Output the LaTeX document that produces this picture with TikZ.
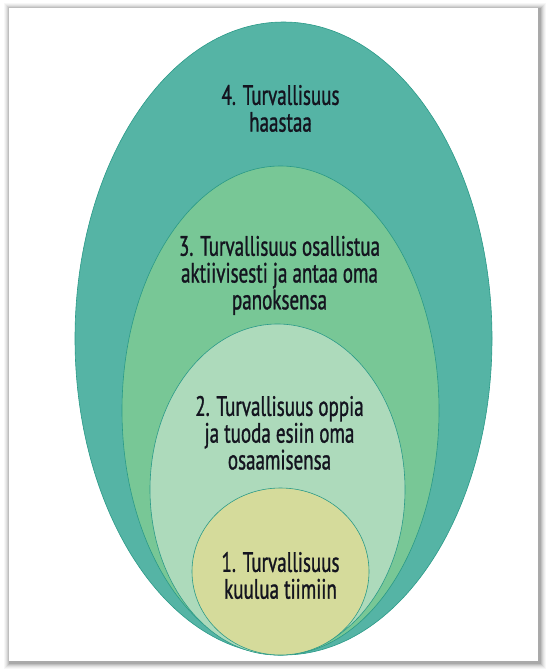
\documentclass[tikz,border=0pt]{standalone}
\usepackage{fontspec}
\setmainfont[FakeStretch=0.68,FakeBold=1]{PT Sans}
\usepackage{xcolor}
\usepackage{tikz}
\usetikzlibrary{positioning,shapes.geometric}

\definecolor{tasoneljä}{HTML}{55B4A5}
\definecolor{tasokolme}{HTML}{78C796}
\definecolor{tasokaksi}{HTML}{ADDABB}
\definecolor{tasoyksi}{HTML}{D5DB9B}
\definecolor{reuna}{HTML}{2A9A88}
\definecolor{teksti}{HTML}{14141F}

\begin{document}
\begin{tikzpicture}[x=1pt,y=-1pt,
  taso/.style={ellipse, draw=reuna, line width=0.6pt, inner sep=0pt},
  otsikko/.style={align=center, text=teksti, font=\fontsize{28}{26.8}\selectfont, inner sep=0pt}]

\useasboundingbox (0,0) rectangle (546,669);

% kehys ja varjo
\foreach \i/\o in {6/0.03,5/0.04,4/0.05,3/0.07,2/0.09,1/0.11}
  \fill[black, opacity=\o] (9-\i+1,8-\i+1) rectangle (538+\i+2,661+\i+2);
\node[fill=white, minimum width=529pt, minimum height=653pt, inner sep=0pt] (kehys) at (273.5,334.5) {};

% sisäkkäiset tasot
\node[taso, fill=tasoneljä, minimum width=417pt, minimum height=633pt] (neljä) at (283.5,338.5) {};
\node[taso, fill=tasokolme, minimum width=317pt, minimum height=489pt] (kolme) at (280.5,410.5) {};
\node[taso, fill=tasokaksi, minimum width=255pt, minimum height=331pt] (kaksi) at (277.5,489.5) {};
\node[taso, fill=tasoyksi, minimum width=177pt, minimum height=167pt] (yksi) at (280.5,571.5) {};

% tekstit
\node[otsikko, below=63pt of neljä.north, xshift=-3pt] (t4) {4. Turvallisuus\\haastaa};
\node[otsikko, below=70pt of kolme.north, xshift=-1pt] (t3) {3. Turvallisuus osallistua\\aktiivisesti ja antaa oma\\panoksensa};
\node[otsikko, below=72pt of kaksi.north, xshift=2pt] (t2) {2. Turvallisuus oppia\\ja tuoda esiin oma\\osaamisensa};
\node[otsikko, below=64pt of yksi.north] (t1) {1. Turvallisuus\\kuulua tiimiin};
\end{tikzpicture}
\end{document}
